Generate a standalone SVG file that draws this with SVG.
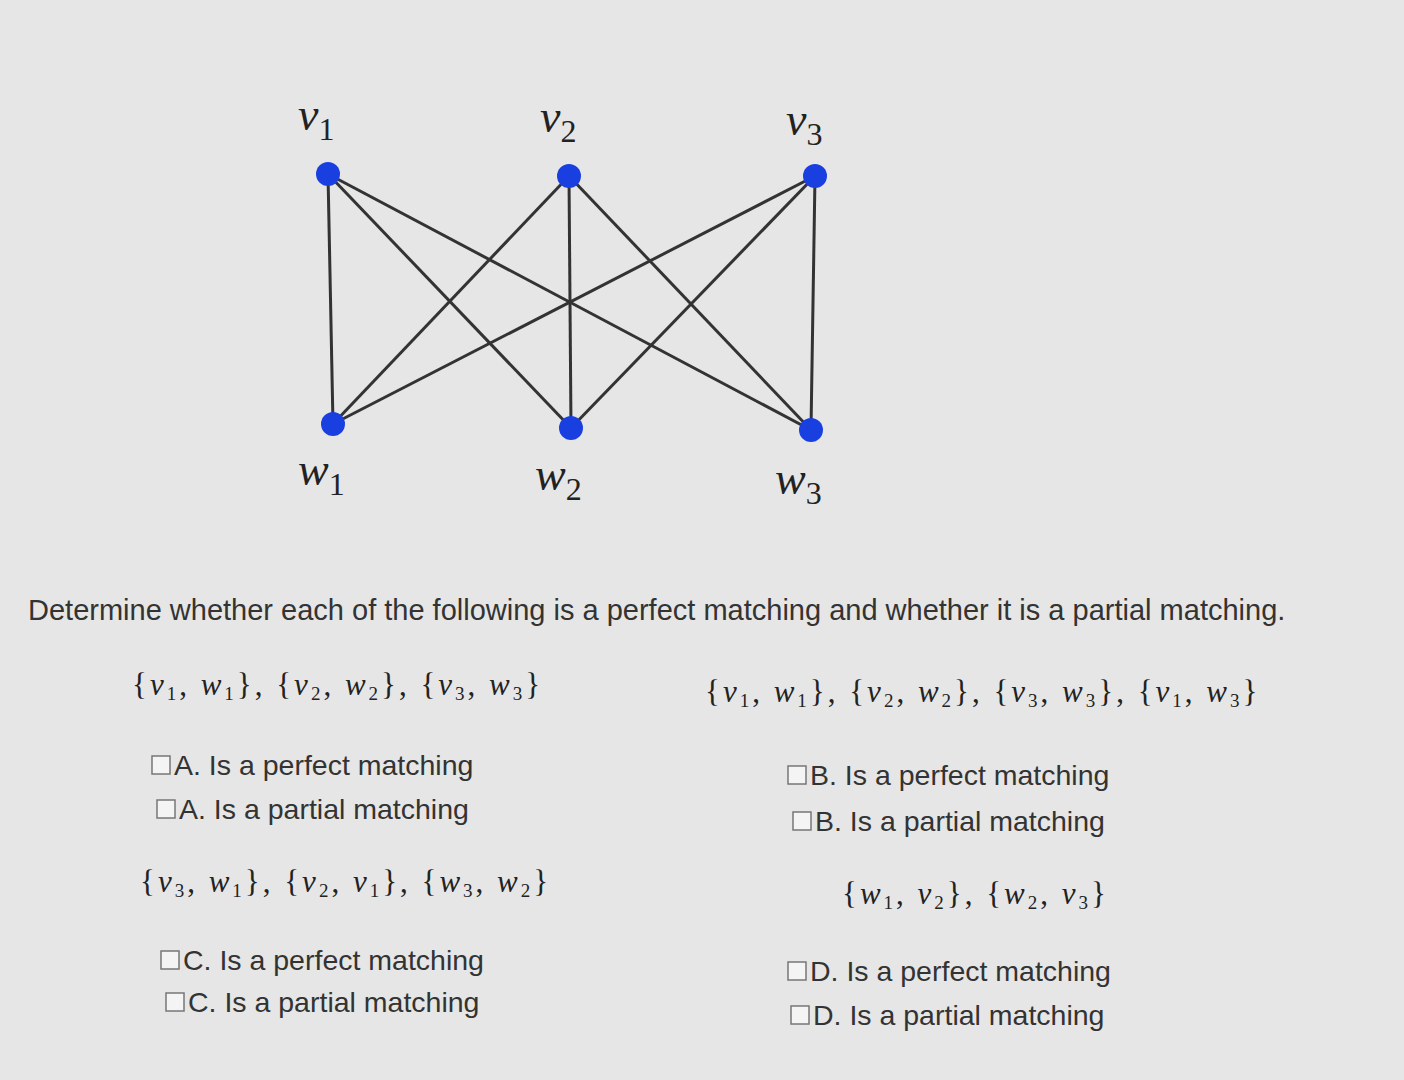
<svg xmlns="http://www.w3.org/2000/svg" width="1404" height="1080" viewBox="0 0 1404 1080">
<style>
.e{stroke:#333;stroke-width:3}
.n{fill:#1a3fe0}
.m{font-family:"Liberation Serif",serif;font-style:italic;fill:#222}
.lb{font-size:46px}
.s{font-family:"Liberation Serif",serif;font-size:31px;fill:#222;letter-spacing:3px}
.t{font-family:"Liberation Sans",Arial,sans-serif;font-size:28.5px;fill:#333}
.t0{font-family:"Liberation Sans",Arial,sans-serif;font-size:29px;fill:#333}
.cb{fill:#f4f4f4;stroke:#777;stroke-width:1.5}
</style>
<rect width="1404" height="1080" fill="#e6e6e6"/>
<g id="edges">
<line class="e" x1="328" y1="174" x2="333" y2="424"/>
<line class="e" x1="328" y1="174" x2="571" y2="428"/>
<line class="e" x1="328" y1="174" x2="811" y2="430"/>
<line class="e" x1="569" y1="176" x2="333" y2="424"/>
<line class="e" x1="569" y1="176" x2="571" y2="428"/>
<line class="e" x1="569" y1="176" x2="811" y2="430"/>
<line class="e" x1="815" y1="176" x2="333" y2="424"/>
<line class="e" x1="815" y1="176" x2="571" y2="428"/>
<line class="e" x1="815" y1="176" x2="811" y2="430"/>
</g>
<g id="v1"><circle class="n" cx="328" cy="174" r="12"/><text class="m lb" x="298" y="130">v<tspan font-size="32" font-style="normal" dy="10">1</tspan></text></g>
<g id="v2"><circle class="n" cx="569" cy="176" r="12"/><text class="m lb" x="540" y="132">v<tspan font-size="32" font-style="normal" dy="10">2</tspan></text></g>
<g id="v3"><circle class="n" cx="815" cy="176" r="12"/><text class="m lb" x="786" y="135">v<tspan font-size="32" font-style="normal" dy="10">3</tspan></text></g>
<g id="w1"><circle class="n" cx="333" cy="424" r="12"/><text class="m lb" x="298" y="485">w<tspan font-size="32" font-style="normal" dy="10">1</tspan></text></g>
<g id="w2"><circle class="n" cx="571" cy="428" r="12"/><text class="m lb" x="535" y="490">w<tspan font-size="32" font-style="normal" dy="10">2</tspan></text></g>
<g id="w3"><circle class="n" cx="811" cy="430" r="12"/><text class="m lb" x="775" y="494">w<tspan font-size="32" font-style="normal" dy="10">3</tspan></text></g>
<text class="t0" x="28" y="620">Determine whether each of the following is a perfect matching and whether it is a partial matching.</text>
<text class="s" x="132" y="695">{<tspan font-style="italic">v</tspan><tspan font-size="19" dy="5">1</tspan><tspan dy="-5">, </tspan><tspan font-style="italic">w</tspan><tspan font-size="19" dy="5">1</tspan><tspan dy="-5">}, {</tspan><tspan font-style="italic">v</tspan><tspan font-size="19" dy="5">2</tspan><tspan dy="-5">, </tspan><tspan font-style="italic">w</tspan><tspan font-size="19" dy="5">2</tspan><tspan dy="-5">}, {</tspan><tspan font-style="italic">v</tspan><tspan font-size="19" dy="5">3</tspan><tspan dy="-5">, </tspan><tspan font-style="italic">w</tspan><tspan font-size="19" dy="5">3</tspan><tspan dy="-5">}</tspan></text>
<text class="s" x="705" y="702">{<tspan font-style="italic">v</tspan><tspan font-size="19" dy="5">1</tspan><tspan dy="-5">, </tspan><tspan font-style="italic">w</tspan><tspan font-size="19" dy="5">1</tspan><tspan dy="-5">}, {</tspan><tspan font-style="italic">v</tspan><tspan font-size="19" dy="5">2</tspan><tspan dy="-5">, </tspan><tspan font-style="italic">w</tspan><tspan font-size="19" dy="5">2</tspan><tspan dy="-5">}, {</tspan><tspan font-style="italic">v</tspan><tspan font-size="19" dy="5">3</tspan><tspan dy="-5">, </tspan><tspan font-style="italic">w</tspan><tspan font-size="19" dy="5">3</tspan><tspan dy="-5">}, {</tspan><tspan font-style="italic">v</tspan><tspan font-size="19" dy="5">1</tspan><tspan dy="-5">, </tspan><tspan font-style="italic">w</tspan><tspan font-size="19" dy="5">3</tspan><tspan dy="-5">}</tspan></text>
<text class="s" x="140" y="892">{<tspan font-style="italic">v</tspan><tspan font-size="19" dy="5">3</tspan><tspan dy="-5">, </tspan><tspan font-style="italic">w</tspan><tspan font-size="19" dy="5">1</tspan><tspan dy="-5">}, {</tspan><tspan font-style="italic">v</tspan><tspan font-size="19" dy="5">2</tspan><tspan dy="-5">, </tspan><tspan font-style="italic">v</tspan><tspan font-size="19" dy="5">1</tspan><tspan dy="-5">}, {</tspan><tspan font-style="italic">w</tspan><tspan font-size="19" dy="5">3</tspan><tspan dy="-5">, </tspan><tspan font-style="italic">w</tspan><tspan font-size="19" dy="5">2</tspan><tspan dy="-5">}</tspan></text>
<text class="s" x="842" y="904">{<tspan font-style="italic">w</tspan><tspan font-size="19" dy="5">1</tspan><tspan dy="-5">, </tspan><tspan font-style="italic">v</tspan><tspan font-size="19" dy="5">2</tspan><tspan dy="-5">}, {</tspan><tspan font-style="italic">w</tspan><tspan font-size="19" dy="5">2</tspan><tspan dy="-5">, </tspan><tspan font-style="italic">v</tspan><tspan font-size="19" dy="5">3</tspan><tspan dy="-5">}</tspan></text>
<g id="optA1"><rect class="cb" x="152" y="756" width="18" height="18"/><text class="t" x="174" y="775">A. Is a perfect matching</text></g>
<g id="optA2"><rect class="cb" x="157" y="800" width="18" height="18"/><text class="t" x="179" y="819">A. Is a partial matching</text></g>
<g id="optB1"><rect class="cb" x="788" y="766" width="18" height="18"/><text class="t" x="810" y="785">B. Is a perfect matching</text></g>
<g id="optB2"><rect class="cb" x="793" y="812" width="18" height="18"/><text class="t" x="815" y="831">B. Is a partial matching</text></g>
<g id="optC1"><rect class="cb" x="161" y="951" width="18" height="18"/><text class="t" x="183" y="970">C. Is a perfect matching</text></g>
<g id="optC2"><rect class="cb" x="166" y="993" width="18" height="18"/><text class="t" x="188" y="1012">C. Is a partial matching</text></g>
<g id="optD1"><rect class="cb" x="788" y="962" width="18" height="18"/><text class="t" x="810" y="981">D. Is a perfect matching</text></g>
<g id="optD2"><rect class="cb" x="791" y="1006" width="18" height="18"/><text class="t" x="813" y="1025">D. Is a partial matching</text></g>
</svg>
